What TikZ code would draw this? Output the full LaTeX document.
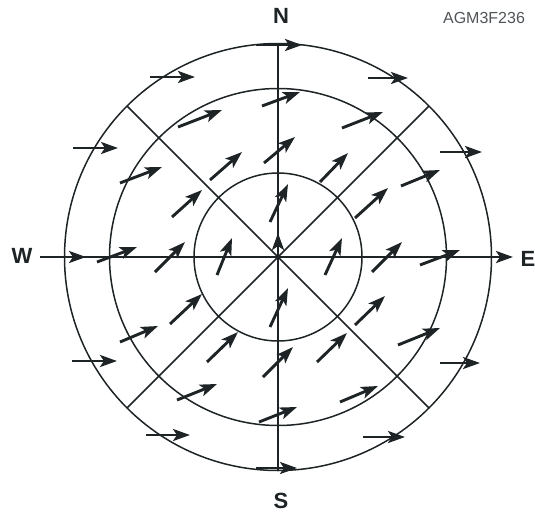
\documentclass[tikz,border=0pt]{standalone}
\usepackage{fontspec}
\setmainfont{Liberation Sans}
\usetikzlibrary{arrows.meta}

\begin{document}
\begin{tikzpicture}[x=1pt,y=-1pt,
  ring/.style={windInk,line width=1.5pt},
  wind/.style={windInk,line width=2.9pt,-{Stealth[length=17pt,width=12pt,inset=4pt]}},
  compass/.style={font=\fontsize{22}{24}\selectfont\bfseries,text=windInk}]
\definecolor{windInk}{HTML}{1E2426}
\definecolor{tagGray}{HTML}{505558}
\useasboundingbox (0,0) rectangle (535,514);
\coordinate (c) at (278,257);
% rings and sector lines
\foreach \r in {84,168.5,213.5}
  \draw[ring] (c) circle (\r);
\foreach \a in {45,135,225,315}
  \draw[ring] (c) -- ++(\a:213.5);
\draw[ring] (278,44) -- (278,470);
\draw[ring] (40,257) -- (470,257);
% labels
\node[compass] (north) at (281,16) {N};
\node[compass] (south) at (281,501) {S};
\node[compass] (west) at (22,256) {W};
\node[compass] (east) at (528,259) {E};
\node[font=\fontsize{16}{18}\selectfont,text=tagGray] (tag) at (484,18) {AGM3F236};
% outer ring
\foreach \s/\e in {{(256,45)}/{(302,45)},{(150,77)}/{(195,77)},{(368,78)}/{(408,78)},
  {(73,148)}/{(118,148)},{(440,152)}/{(482,152)},{(40,257)}/{(86,257)},
  {(468,257)}/{(513,257)},{(72,361)}/{(117,361)},{(440,363)}/{(480,363)},
  {(146,435)}/{(190,435)},{(363,437)}/{(405,437)},{(256,468)}/{(297,468)}}
  \draw[wind] \s -- \e;
% middle ring
\foreach \s/\e in {{(262,106)}/{(300,92)},{(178,127)}/{(222,110)},{(342,128)}/{(383,112)},
  {(120,183)}/{(162,167)},{(401,186)}/{(440,170)},{(97,262)}/{(137,247)},
  {(420,265)}/{(460,250)},{(120,342)}/{(158,326)},{(398,345)}/{(440,328)},
  {(177,400)}/{(217,384)},{(340,402)}/{(378,386)},{(259,422)}/{(297,407)}}
  \draw[wind] \s -- \e;
% band inside middle ring
\foreach \s/\e in {{(264,163)}/{(295,137)},{(210,180)}/{(242,152)},{(320,182)}/{(348,153)},
  {(172,217)}/{(202,190)},{(355,218)}/{(388,188)},{(155,272)}/{(185,242)},
  {(372,272)}/{(402,242)},{(170,324)}/{(202,294)},{(355,325)}/{(385,296)},
  {(207,362)}/{(238,332)},{(317,362)}/{(347,333)},{(263,377)}/{(293,347)}}
  \draw[wind] \s -- \e;
% inner circle
\foreach \s/\e in {{(270,222)}/{(288,184)},{(217,275)}/{(232,238)},{(325,275)}/{(342,238)},
  {(270,327)}/{(288,288)},{(278,257)}/{(278,233)}}
  \draw[wind] \s -- \e;
\end{tikzpicture}
\end{document}
